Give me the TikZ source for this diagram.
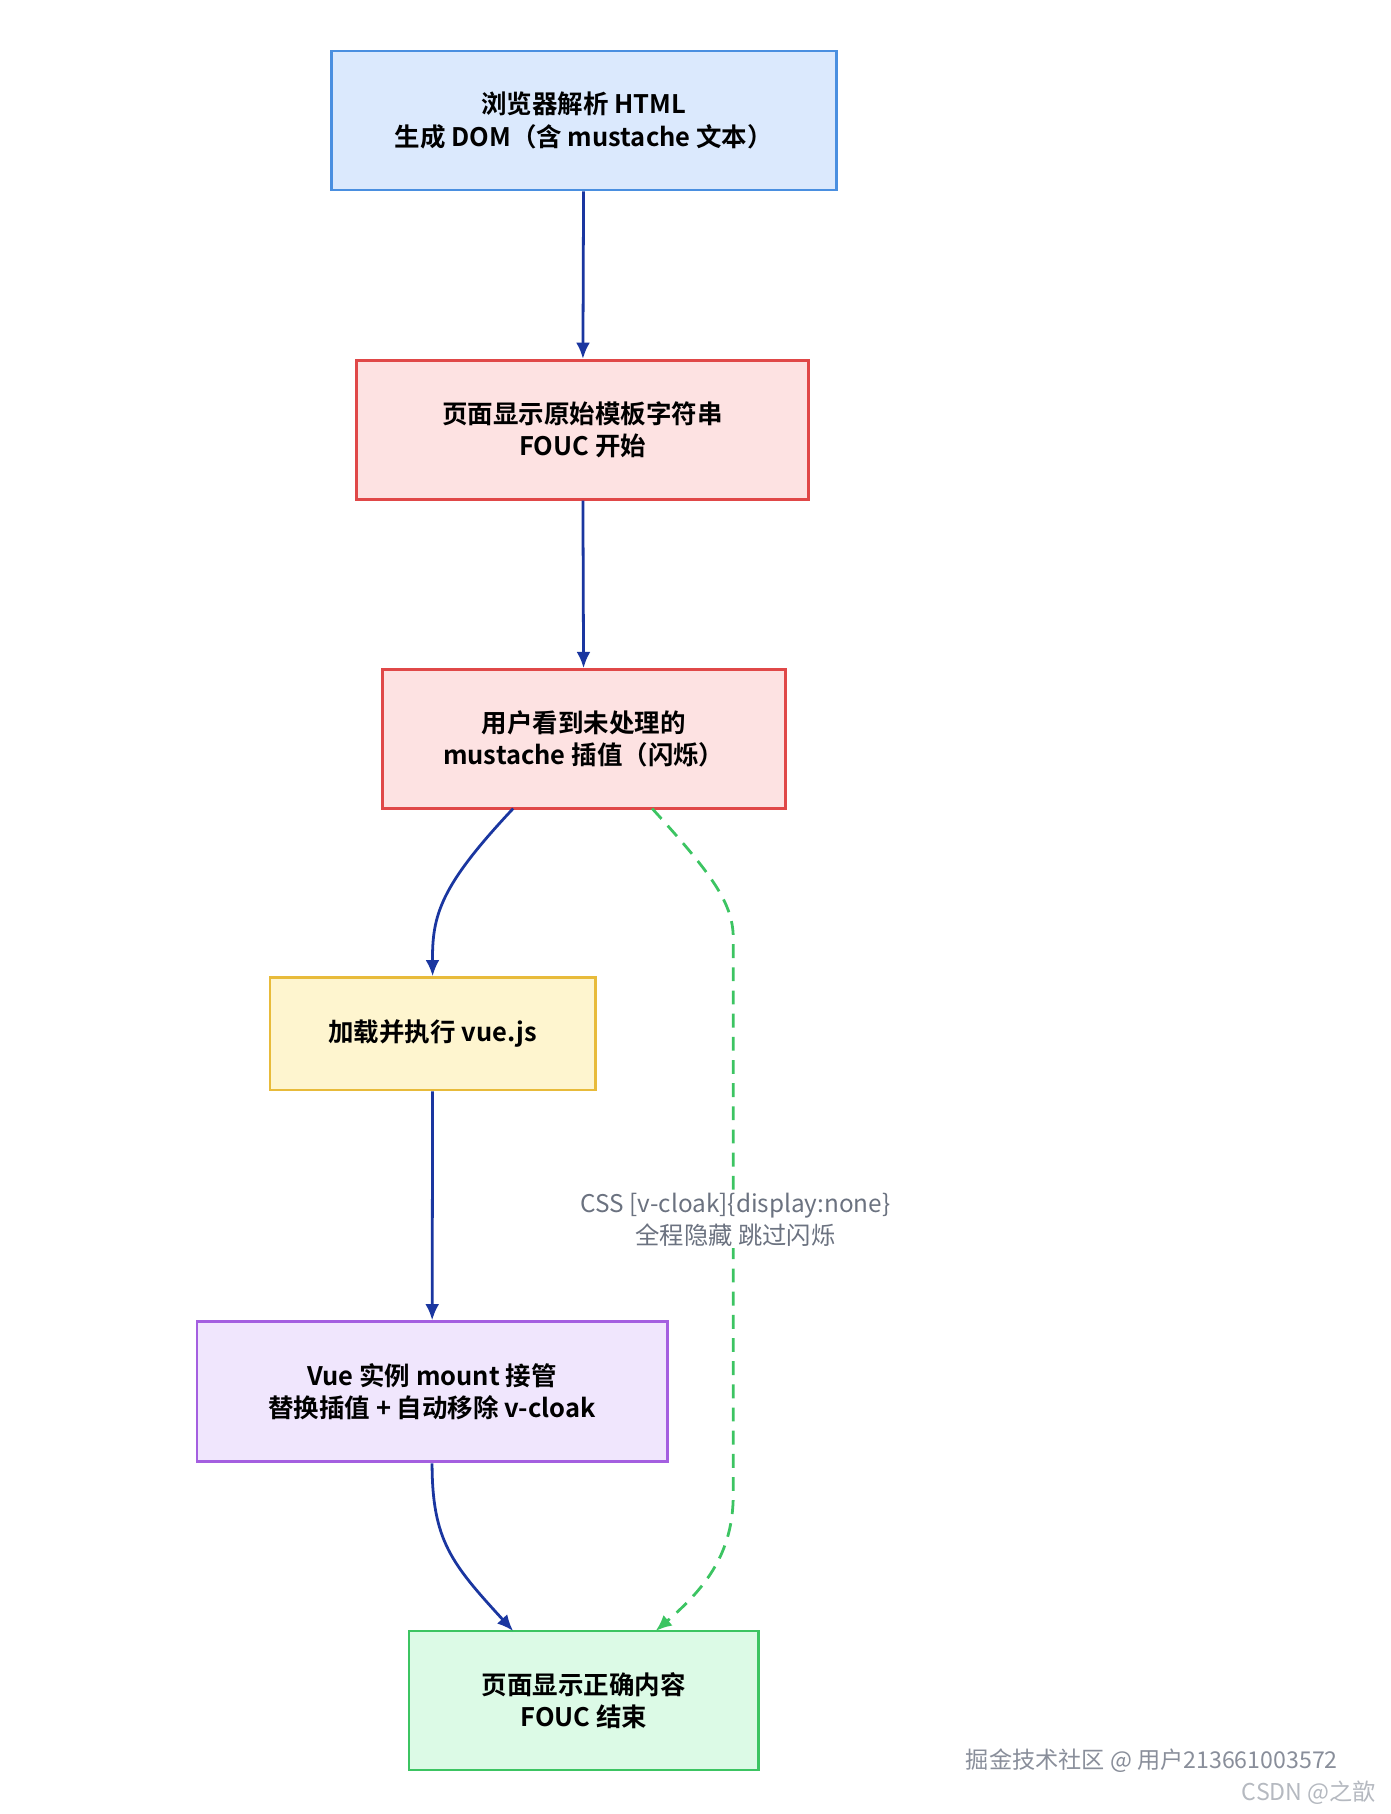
\documentclass[tikz,border=0pt]{standalone}
\usepackage{fontspec}
\setmainfont{Noto Sans CJK SC}
\newfontfamily\cjkb{Noto Sans CJK SC Bold}
\usetikzlibrary{arrows.meta}
\definecolor{arr}{HTML}{1A36A0}
\definecolor{bfill}{HTML}{DBE9FD}\definecolor{bline}{HTML}{4A8FE0}
\definecolor{rfill}{HTML}{FDE2E2}\definecolor{rline}{HTML}{E04848}
\definecolor{yfill}{HTML}{FEF5CF}\definecolor{yline}{HTML}{E8BB3A}
\definecolor{pfill}{HTML}{F0E6FD}\definecolor{pline}{HTML}{A45FE0}
\definecolor{gfill}{HTML}{DCFAE6}\definecolor{gline}{HTML}{3CC462}
\definecolor{lbl}{HTML}{6B7280}
\begin{document}
\begin{tikzpicture}[x=0.5pt,y=-0.5pt,
 box/.style={draw,line width=1.2pt,align=center,font=\cjkb\fontsize{11}{14}\selectfont,inner sep=0pt},
 con/.style={draw=arr,line width=1.2pt,-{Latex[length=7pt,width=6pt]}}]
\useasboundingbox (0,0) rectangle (1200,1566);
\node[box,fill=bfill,draw=bline,minimum width=218pt,minimum height=60pt] (a) at (504,104) {浏览器解析 HTML\\生成 DOM（含 mustache 文本）};
\node[box,fill=rfill,draw=rline,minimum width=195pt,minimum height=60pt] (b) at (503,371) {页面显示原始模板字符串\\FOUC 开始};
\node[box,fill=rfill,draw=rline,minimum width=174pt,minimum height=60pt] (c) at (504,638) {用户看到未处理的\\mustache 插值（闪烁）};
\node[box,fill=yfill,draw=yline,minimum width=140.5pt,minimum height=48.5pt] (d) at (373.5,892.5) {加载并执行 vue.js};
\node[box,fill=pfill,draw=pline,minimum width=203pt,minimum height=60.5pt] (e) at (373,1201.5) {Vue 实例 mount 接管\\替换插值 + 自动移除 v-cloak};
\node[box,fill=gfill,draw=gline,minimum width=151pt,minimum height=60pt] (f) at (504,1468) {页面显示正确内容\\FOUC 结束};
\draw[con] (a) -- (b);
\draw[con] (b) -- (c);
\draw[con] (443,698) .. controls (380,765) and (373,790) .. (d.north);
\draw[con] (d) -- (e);
\draw[con] (e.south) .. controls (373,1330) and (390,1350) .. (443,1408);
\coordinate (g1) at (633,810);
\coordinate (g2) at (633,1290);
\draw[gline,line width=1.2pt,dash pattern=on 6pt off 4pt,-{Latex[length=7pt,width=6pt]}]
 (563,698) .. controls (615,755) and (633,780) .. (g1) -- (g2) .. controls (633,1340) and (610,1370) .. (566,1408);
\node[align=center,text=lbl,font=\itshape\fontsize{10.5}{13.5}\selectfont,fill=white,inner sep=1pt] (l) at (635,1053) {CSS [v-cloak]\{display:none\}\\全程隐藏 跳过闪烁};
\node[text=lbl!80,font=\fontsize{10}{12}\selectfont,anchor=east] (w1) at (1162,1520) {掘金技术社区 @ 用户213661003572};
\node[text=lbl!50,font=\fontsize{10}{12}\selectfont,anchor=east] (w2) at (1195,1548) {CSDN @之歆};
\end{tikzpicture}
\end{document}
